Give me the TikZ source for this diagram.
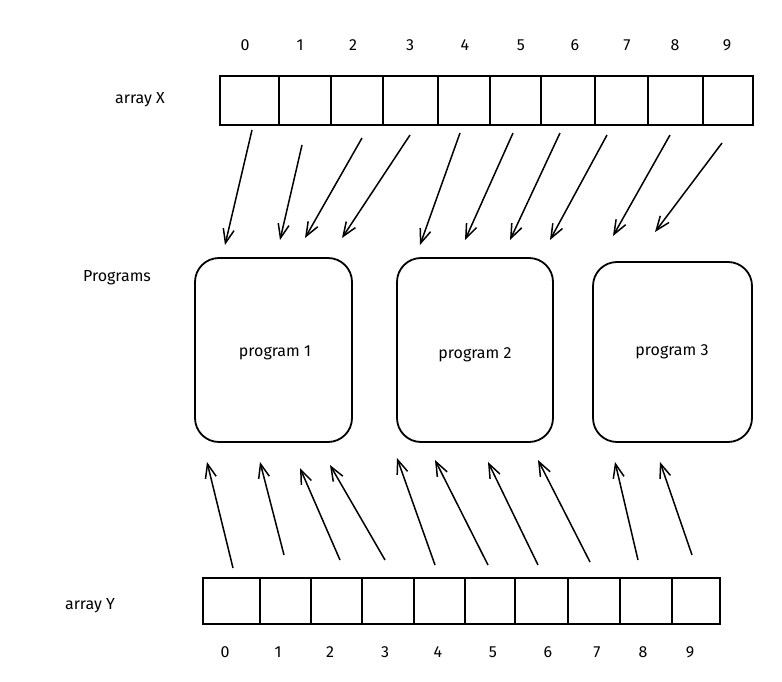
\documentclass[tikz,border=0pt]{standalone}
\usepackage{fontspec}
\setmainfont{Fira Sans}
\usetikzlibrary{arrows.meta}
\begin{document}
\begin{tikzpicture}[x=1pt,y=-1pt,
  lbl/.style={font=\fontsize{16}{18}\selectfont},
  cellbox/.style={draw,line width=1.3pt},
  prog/.style={draw,line width=1.8pt,rounded corners=24pt},
  arr/.style={-{Straight Barb[length=14pt,width=11pt]},line width=1.5pt}]
\useasboundingbox (0,0) rectangle (782,682);
% array X
\foreach \a/\b [count=\i from 0] in {220/279,279/331,331/383,383/438,438/490,490/541,541/595,595/648,648/703,703/753}
  \draw[cellbox] (\a,76) rectangle (\b,125);
\foreach \x [count=\i from 0] in {245,300,353,410,465,521,575,627,675,727}
  \node[lbl] (xl\i) at (\x,45) {\i};
\node[lbl] (ax) at (140,100) {array X};
% array Y
\foreach \a/\b [count=\i from 0] in {203/260,260/311,311/362,362/414,414/465,465/515,515/568,568/620,620/672,672/720}
  \draw[cellbox] (\a,578) rectangle (\b,624);
\foreach \x [count=\i from 0] in {225,278,330,385,438,493,548,597,643,690}
  \node[lbl] (yl\i) at (\x,652) {\i};
\node[lbl] (ay) at (90,606) {array Y};
\node[lbl] (pg) at (117,278) {Programs};
% programs
\draw[prog] (195,258) rectangle (352,442);
\draw[prog] (397,258) rectangle (553,442);
\draw[prog] (593,262) rectangle (752,442);
\node[lbl] (p1) at (275,353) {program 1};
\node[lbl] (p2) at (475,355) {program 2};
\node[lbl] (p3) at (672,352) {program 3};
% arrows from X
\foreach \sx/\sy/\ex/\ey [count=\i] in {252/130/225/245,302/145/280/240,362/138/305/238,410/135/342/238,460/133/420/245,513/133/465/240,560/133/510/240,607/135/550/240,670/135/613/236,722/143/655/232}{
  \coordinate (xs\i) at (\sx,\sy); \coordinate (xe\i) at (\ex,\ey);
  \draw[arr] (xs\i) -- (xe\i);}
% arrows from Y
\foreach \sx/\sy/\ex/\ey [count=\i] in {233/568/207/462,284/555/260/462,340/560/300/468,385/560/330/465,435/565/397/458,488/565/435/460,538/565/488/462,590/562/538/460,638/560/615/462,692/555/660/462}{
  \coordinate (ys\i) at (\sx,\sy); \coordinate (ye\i) at (\ex,\ey);
  \draw[arr] (ys\i) -- (ye\i);}
\end{tikzpicture}
\end{document}
